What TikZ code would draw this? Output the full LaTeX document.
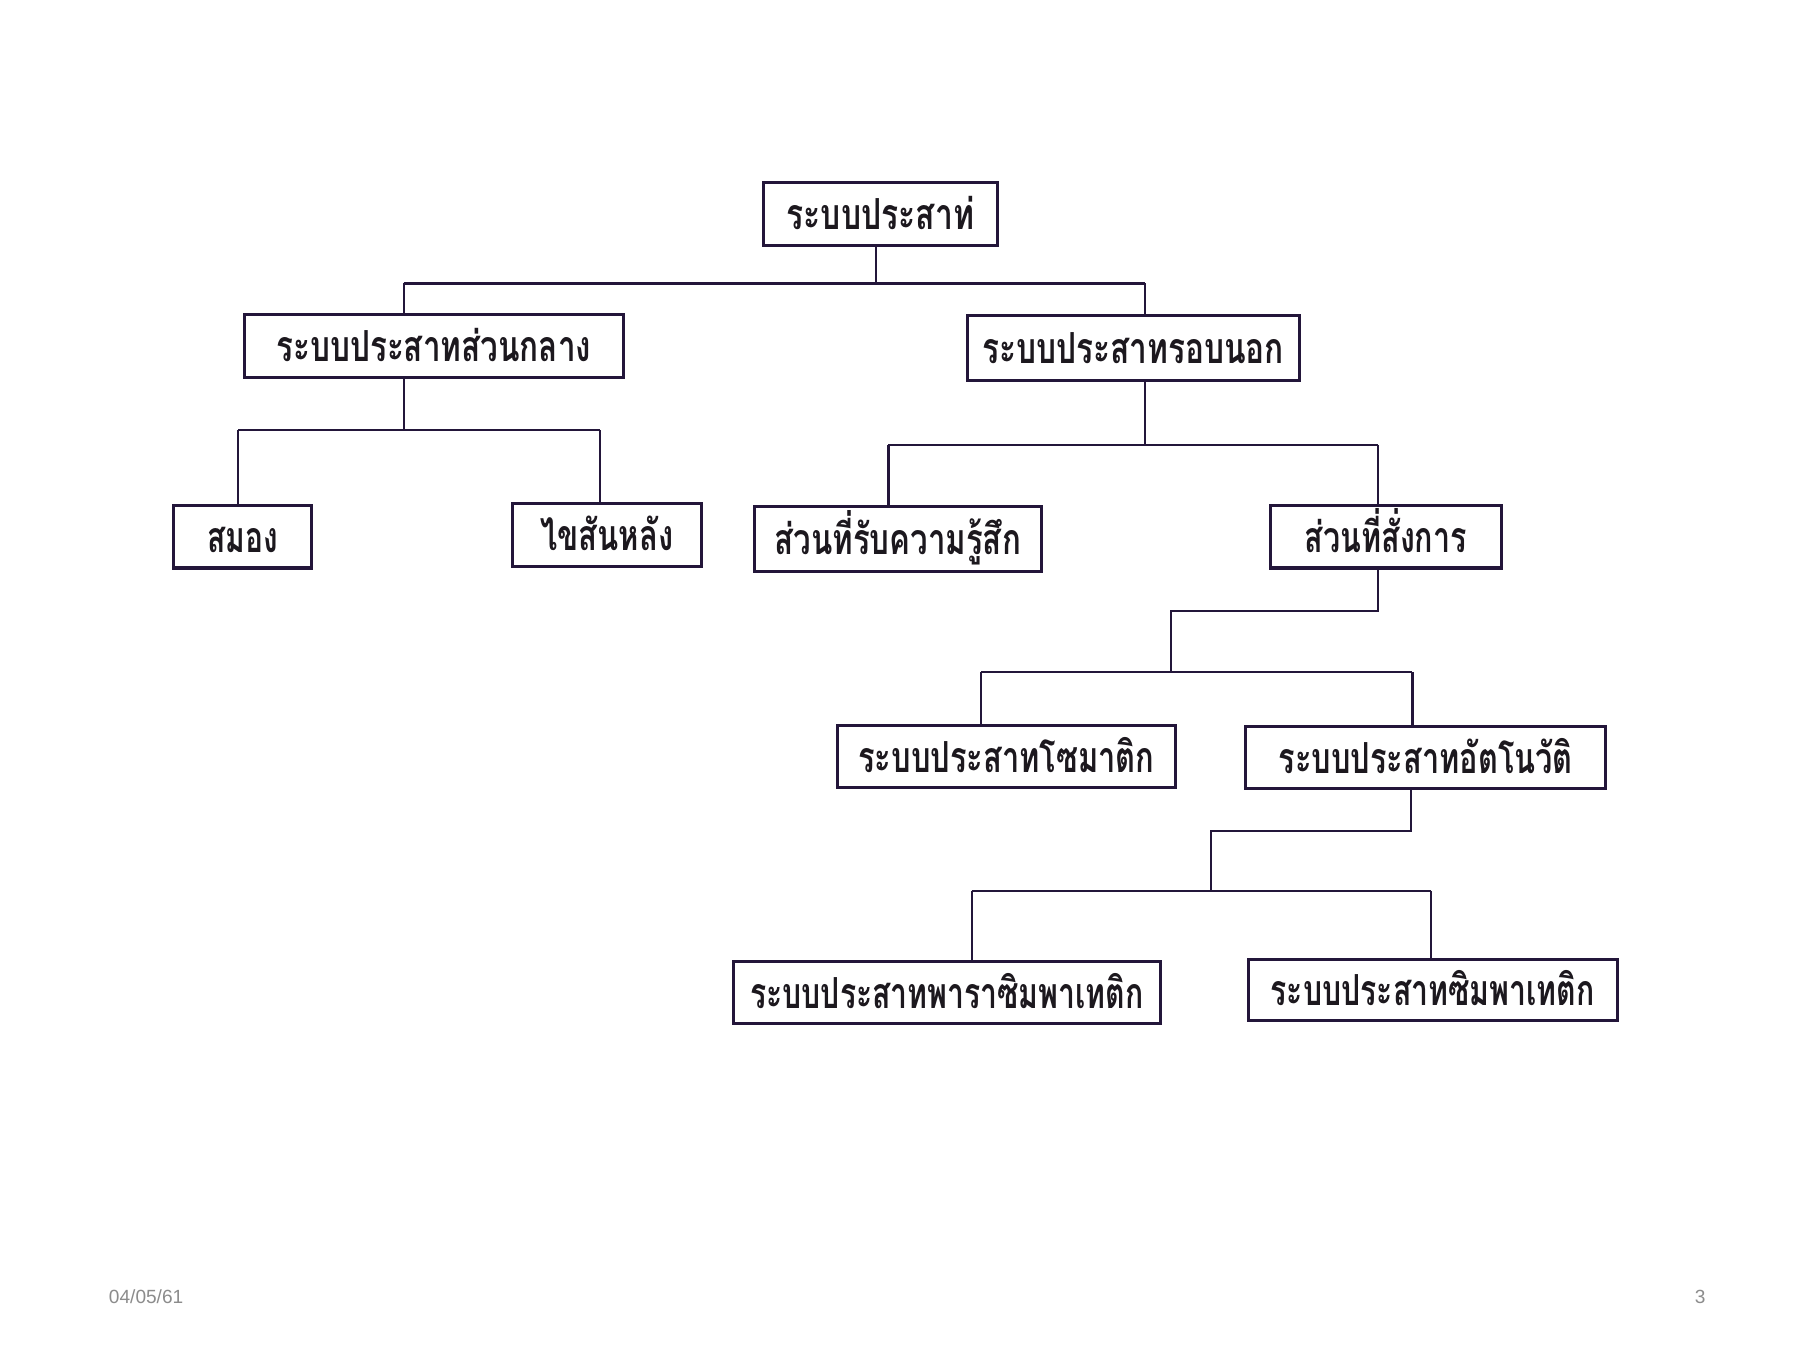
\documentclass[tikz,border=0pt]{standalone}
\usepackage{fontspec}
\newfontfamily\thai[Script=Thai]{Loma}
\setsansfont{Liberation Sans}
\definecolor{boxcol}{RGB}{35,22,58}
\definecolor{txtcol}{RGB}{28,24,30}
\definecolor{footcol}{RGB}{140,140,140}
\newcommand\fitx[2]{\sbox0{#2}\dimen0=\wd0\relax\pgfmathsetmacro\fxr{#1/\the\dimen0}\scalebox{\fxr}[1]{#2}}
\tikzset{
  box/.style={draw=boxcol, line width=2.6pt, rectangle, inner sep=0pt, text=txtcol,
    font=\thai\bfseries\fontsize{37}{40}\selectfont, text height=27pt, text depth=0pt},
  conn/.style={draw=boxcol, line width=1.9pt},
  foot/.style={font=\sffamily\fontsize{16.5}{18}\selectfont, text=footcol, inner sep=0pt, anchor=base west}
}
\begin{document}
\begin{tikzpicture}[x=1pt,y=-1pt]
\useasboundingbox[fill=white] (0,0) rectangle (1556,1167);
% boxes
\node[box, minimum width=202pt, minimum height=55pt] (root) at (761,185) {\fitx{162}{ระบบประสาท่}};
\node[box, minimum width=328pt, minimum height=55pt] (L1) at (375,299) {\fitx{272}{ระบบประสาทส่วนกลาง}};
\node[box, minimum width=287pt, minimum height=56pt] (R1) at (979.5,301) {\fitx{261}{ระบบประสาทรอบนอก}};
\node[box, minimum width=119pt, minimum height=54pt] (brain) at (209.5,464) {\fitx{61}{สมอง}};
\node[box, minimum width=163pt, minimum height=55pt] (cord) at (524.5,462.5) {\fitx{115}{ไขสันหลัง}};
\node[box, minimum width=248pt, minimum height=56pt] (sense) at (776,466) {\fitx{213}{ส่วนที่รับความรู้สึก}};
\node[box, minimum width=200pt, minimum height=54pt] (motor) at (1198,464) {\fitx{140}{ส่วนที่สั่งการ}};
\node[box, minimum width=292pt, minimum height=54pt] (soma) at (870,654) {\fitx{256}{ระบบประสาทโซมาติก}};
\node[box, minimum width=311pt, minimum height=54pt] (auto) at (1232.5,655) {\fitx{254}{ระบบประสาทอัตโนวัติ}};
\node[box, minimum width=369pt, minimum height=54pt] (para) at (818.5,858) {\fitx{340}{ระบบประสาทพาราซิมพาเทติก}};
\node[box, minimum width=319pt, minimum height=53pt] (symp) at (1238.5,855.5) {\fitx{280}{ระบบประสาทซิมพาเทติก}};
% junctions
\coordinate (j1) at (757,245); \coordinate (j1l) at (349,245); \coordinate (j1r) at (990,245);
\coordinate (j2) at (349,372); \coordinate (j2l) at (206,372); \coordinate (j2r) at (519,372);
\coordinate (j3) at (990,385); \coordinate (j3l) at (768,385); \coordinate (j3r) at (1191,385);
\coordinate (j4) at (1191,528); \coordinate (j4b) at (1012,528);
\coordinate (j5) at (1012,581); \coordinate (j5l) at (848,581); \coordinate (j5r) at (1221,581);
\coordinate (j6) at (1220,718); \coordinate (j6b) at (1047,718);
\coordinate (j7) at (1047,770); \coordinate (j7l) at (840,770); \coordinate (j7r) at (1237,770);
% connectors
\draw[conn] (root.south -| j1) -- (j1);
\draw[conn] (j1l) -- (j1r);
\draw[conn] (j1l) -- (L1.north -| j1l);
\draw[conn] (j1r) -- (R1.north -| j1r);
\draw[conn] (L1.south -| j2) -- (j2);
\draw[conn] (j2l) -- (j2r);
\draw[conn] (j2l) -- (brain.north -| j2l);
\draw[conn] (j2r) -- (cord.north -| j2r);
\draw[conn] (R1.south -| j3) -- (j3);
\draw[conn] (j3l) -- (j3r);
\draw[conn] (j3l) -- (sense.north -| j3l);
\draw[conn] (j3r) -- (motor.north -| j3r);
\draw[conn] (motor.south -| j4) -- (j4) -- (j4b) -- (j5);
\draw[conn] (j5l) -- (j5r);
\draw[conn] (j5l) -- (soma.north -| j5l);
\draw[conn] (j5r) -- (auto.north -| j5r);
\draw[conn] (auto.south -| j6) -- (j6) -- (j6b) -- (j7);
\draw[conn] (j7l) -- (j7r);
\draw[conn] (j7l) -- (para.north -| j7l);
\draw[conn] (j7r) -- (symp.north -| j7r);
% footer
\node[foot] (date) at (94,1127) {04/05/61};
\node[foot] (page) at (1465,1127) {3};
\end{tikzpicture}
\end{document}
